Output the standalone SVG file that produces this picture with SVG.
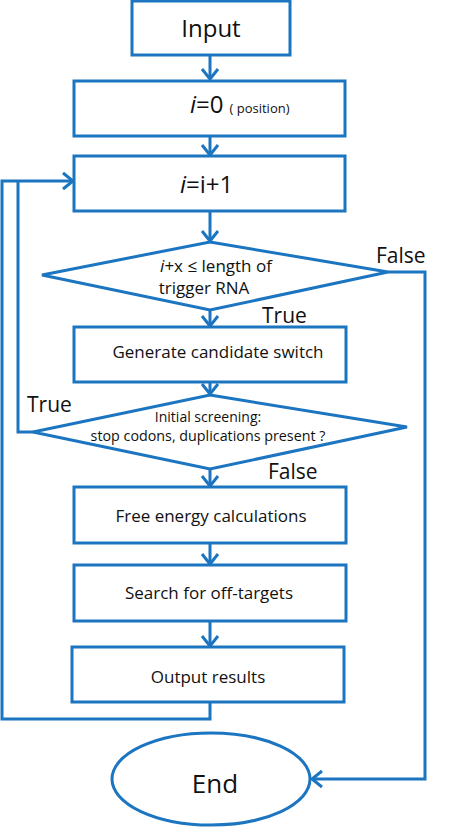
<svg xmlns="http://www.w3.org/2000/svg" width="474" height="827" viewBox="0 0 474 827">
<style>
.n{fill:#fff;stroke:#1c75c0;stroke-width:3}
.c{fill:none;stroke:#1c75c0;stroke-width:3}
text{font-family:"Open Sans","Noto Sans",sans-serif;fill:#111}
.m{text-anchor:middle}
.lb{font-size:21px}
.b{font-size:17px}
</style>
<defs>
<marker id="a" markerUnits="userSpaceOnUse" viewBox="-13 -10 16 20" markerWidth="16" markerHeight="20" refX="0" refY="0" orient="auto">
<path d="M-10,-8 L0,0 L-10,8" fill="none" stroke="#1c75c0" stroke-width="3"/>
</marker>
</defs>
<rect width="474" height="827" fill="#fff"/>
<g id="connectors">
<line class="c" x1="210" y1="55" x2="210" y2="79" marker-end="url(#a)"/>
<line class="c" x1="210" y1="136" x2="210" y2="155" marker-end="url(#a)"/>
<line class="c" x1="210" y1="211" x2="210" y2="241" marker-end="url(#a)"/>
<line class="c" x1="210" y1="310" x2="210" y2="326" marker-end="url(#a)"/>
<line class="c" x1="210" y1="382" x2="210" y2="394" marker-end="url(#a)"/>
<line class="c" x1="210" y1="469" x2="210" y2="486" marker-end="url(#a)"/>
<line class="c" x1="210" y1="543" x2="210" y2="564" marker-end="url(#a)"/>
<line class="c" x1="210" y1="621" x2="210" y2="646" marker-end="url(#a)"/>
<path class="c" d="M210,702 V719 H2 V181 H73" marker-end="url(#a)"/>
<path class="c" d="M34,432 H18 V181"/>
<path class="c" d="M388,272 H425 V779 H312" marker-end="url(#a)"/>
<text class="lb" x="376" y="263">False</text>
<text class="lb" x="262" y="323">True</text>
<text class="lb" x="27" y="412">True</text>
<text class="lb" x="268" y="479">False</text>
</g>
<g id="input">
<rect class="n" x="132" y="1" width="158" height="54"/>
<text class="m" x="211" y="37" font-size="24">Input</text>
</g>
<g id="init">
<rect class="n" x="74" y="81" width="271" height="55"/>
<text x="190" y="113" font-size="24"><tspan font-style="italic">i</tspan>=0<tspan font-size="13" dx="6">( position)</tspan></text>
</g>
<g id="incr">
<rect class="n" x="74" y="156" width="271" height="55"/>
<text x="180" y="193" font-size="24"><tspan font-style="italic">i</tspan>=i+1</text>
</g>
<g id="cond1">
<polygon class="n" points="210,242 388,272 210,310 42,275"/>
<text class="m" x="216" y="272" font-size="17"><tspan font-style="italic">i</tspan>+x ≤ length of</text>
<text class="m" x="204" y="294" font-size="17">trigger RNA</text>
</g>
<g id="generate">
<rect class="n" x="74" y="327" width="272" height="55"/>
<text class="m b" x="218" y="358">Generate candidate switch</text>
</g>
<g id="cond2">
<polygon class="n" points="210,395 407,427 210,469 33,432"/>
<text class="m" x="208" y="422" font-size="14">Initial screening:</text>
<text class="m" x="208" y="441" font-size="14.3">stop codons, duplications present ?</text>
</g>
<g id="energy">
<rect class="n" x="74" y="487" width="272" height="56"/>
<text class="m b" x="211" y="522">Free energy calculations</text>
</g>
<g id="search">
<rect class="n" x="74" y="565" width="272" height="56"/>
<text class="m b" x="209" y="599">Search for off-targets</text>
</g>
<g id="output">
<rect class="n" x="72" y="647" width="272" height="55"/>
<text class="m b" x="208" y="683">Output results</text>
</g>
<g id="end">
<ellipse class="n" cx="211" cy="779" rx="99" ry="46"/>
<text class="m" x="215" y="793" font-size="26">End</text>
</g>
</svg>
